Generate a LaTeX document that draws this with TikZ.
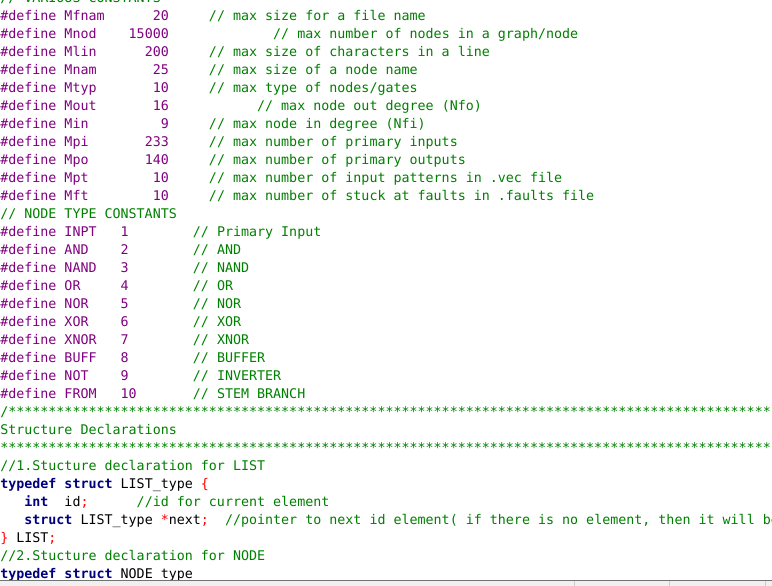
\documentclass[tikz,border=0pt]{standalone}
\usepackage{fontspec}
\setmonofont{DejaVu Sans Mono}
\definecolor{pp}{HTML}{800080}
\definecolor{cg}{HTML}{008000}
\definecolor{kw}{HTML}{000080}
\definecolor{rd}{HTML}{FF0000}
\newcommand\sk[1]{\hspace*{\dimexpr#1\fontcharwd\font`x\relax}}
\newcommand\df[1]{\textcolor{pp}{\#define #1}}
\newcommand\cm[1]{\textcolor{cg}{#1}}
\newcommand\kk[1]{\textcolor{kw}{\bfseries #1}}
\newcommand\rr[1]{\textcolor{rd}{#1}}
\newcommand\CodeLine[2]{\node[L] (l#1) at (0pt,{-(18*#1+2)*0.75pt}) {#2};}
\newcommand\stars{****************************************************************************************************}
\tikzset{L/.style={anchor=base west,inner sep=0pt,font=\ttfamily\fontsize{10pt}{12pt}\selectfont}}
\begin{document}
\begin{tikzpicture}
\useasboundingbox (0,0) rectangle (579pt,-439.5pt);
\fill[white] (0,0) rectangle (579pt,-439.5pt);
\begin{scope}
\clip (0,0) rectangle (579pt,-435pt);
\CodeLine{0}{\cm{// VARIOUS CONSTANTS}}
\CodeLine{1}{\df{Mfnam}\sk{6}\textcolor{pp}{20}\sk{5}\cm{// max size for a file name}}
\CodeLine{2}{\df{Mnod}\sk{4}\textcolor{pp}{15000}\sk{13}\cm{// max number of nodes in a graph/node}}
\CodeLine{3}{\df{Mlin}\sk{6}\textcolor{pp}{200}\sk{5}\cm{// max size of characters in a line}}
\CodeLine{4}{\df{Mnam}\sk{7}\textcolor{pp}{25}\sk{5}\cm{// max size of a node name}}
\CodeLine{5}{\df{Mtyp}\sk{7}\textcolor{pp}{10}\sk{5}\cm{// max type of nodes/gates}}
\CodeLine{6}{\df{Mout}\sk{7}\textcolor{pp}{16}\sk{11}\cm{// max node out degree (Nfo)}}
\CodeLine{7}{\df{Min}\sk{9}\textcolor{pp}{9}\sk{5}\cm{// max node in degree (Nfi)}}
\CodeLine{8}{\df{Mpi}\sk{7}\textcolor{pp}{233}\sk{5}\cm{// max number of primary inputs}}
\CodeLine{9}{\df{Mpo}\sk{7}\textcolor{pp}{140}\sk{5}\cm{// max number of primary outputs}}
\CodeLine{10}{\df{Mpt}\sk{8}\textcolor{pp}{10}\sk{5}\cm{// max number of input patterns in .vec file}}
\CodeLine{11}{\df{Mft}\sk{8}\textcolor{pp}{10}\sk{5}\cm{// max number of stuck at faults in .faults file}}
\CodeLine{12}{\cm{// NODE TYPE CONSTANTS}}
\CodeLine{13}{\df{INPT}\sk{3}\textcolor{pp}{1}\sk{8}\cm{// Primary Input}}
\CodeLine{14}{\df{AND}\sk{4}\textcolor{pp}{2}\sk{8}\cm{// AND}}
\CodeLine{15}{\df{NAND}\sk{3}\textcolor{pp}{3}\sk{8}\cm{// NAND}}
\CodeLine{16}{\df{OR}\sk{5}\textcolor{pp}{4}\sk{8}\cm{// OR}}
\CodeLine{17}{\df{NOR}\sk{4}\textcolor{pp}{5}\sk{8}\cm{// NOR}}
\CodeLine{18}{\df{XOR}\sk{4}\textcolor{pp}{6}\sk{8}\cm{// XOR}}
\CodeLine{19}{\df{XNOR}\sk{3}\textcolor{pp}{7}\sk{8}\cm{// XNOR}}
\CodeLine{20}{\df{BUFF}\sk{3}\textcolor{pp}{8}\sk{8}\cm{// BUFFER}}
\CodeLine{21}{\df{NOT}\sk{4}\textcolor{pp}{9}\sk{8}\cm{// INVERTER}}
\CodeLine{22}{\df{FROM}\sk{3}\textcolor{pp}{10}\sk{7}\cm{// STEM BRANCH}}
\CodeLine{23}{\cm{/\stars}}
\CodeLine{24}{\cm{Structure Declarations}}
\CodeLine{25}{\cm{\stars}}
\CodeLine{26}{\cm{//1.Stucture declaration for LIST}}
\CodeLine{27}{\kk{typedef}\sk{1}\kk{struct}\sk{1}LIST\_type\sk{1}\rr{\{}}
\CodeLine{28}{\sk{3}\kk{int}\sk{2}id\rr{;}\sk{6}\cm{//id for current element}}
\CodeLine{29}{\sk{3}\kk{struct}\sk{1}LIST\_type\sk{1}\rr{*}next\rr{;}\sk{2}\cm{//pointer to next id element( if there is no element, then it will be NULL)}}
\CodeLine{30}{\rr{\}}\sk{1}LIST\rr{;}}
\CodeLine{31}{\cm{//2.Stucture declaration for NODE}}
\CodeLine{32}{\kk{typedef}\sk{1}\kk{struct}\sk{1}NODE\_type}
\end{scope}
\fill[black!6] (0,-435pt) rectangle (579pt,-439.5pt);
\draw[black!55,line width=0.75pt] (0,-435pt) -- (579pt,-435pt);
\foreach \x in {431,502,574} \draw[black!20] (\x pt,-435.5pt) -- (\x pt,-439.5pt);
\end{tikzpicture}
\end{document}
